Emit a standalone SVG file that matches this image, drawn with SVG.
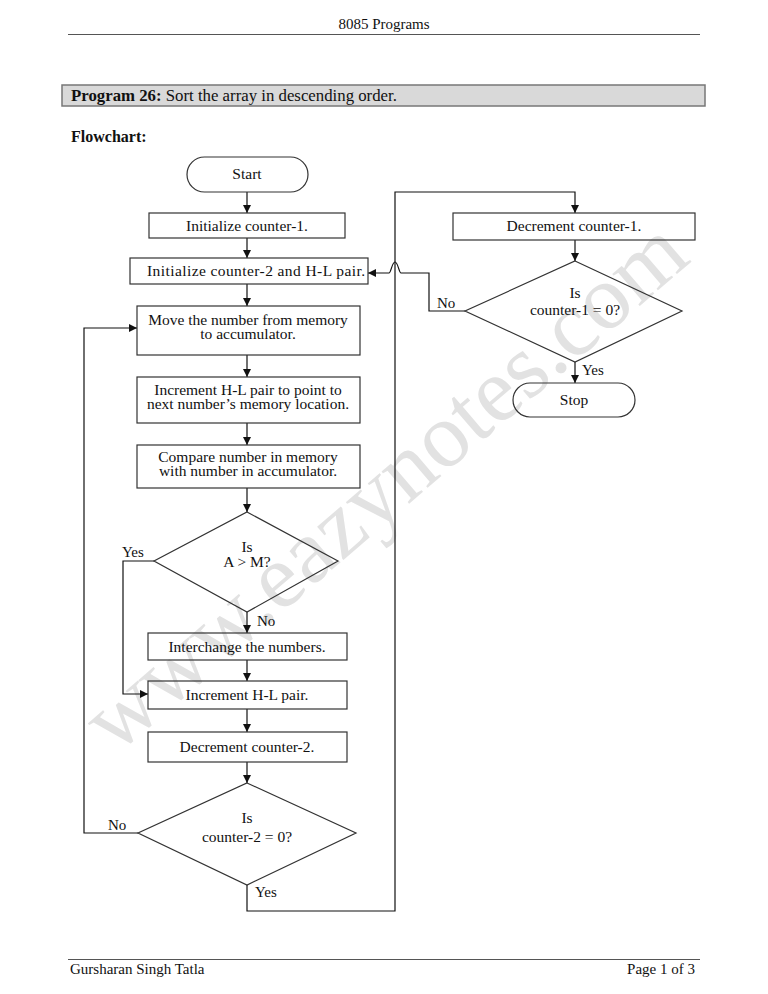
<svg xmlns="http://www.w3.org/2000/svg" width="768" height="994" viewBox="0 0 768 994">
<defs>
<style>
text{font-family:"Liberation Serif","Times New Roman",serif;fill:#111;}
.t{font-size:15.5px;text-anchor:middle;}
.l{font-size:15px;}
.shape{fill:none;stroke:#333;stroke-width:1.2;}
.conn{fill:none;stroke:#111;stroke-width:1.2;}
.rule{stroke:#555;stroke-width:1.2;}
.wm{font-size:92px;fill:#e2e2e2;}
</style>
<marker id="ah" viewBox="0 0 10 10" refX="10" refY="5" markerWidth="8" markerHeight="8" markerUnits="userSpaceOnUse" orient="auto">
<path d="M0,0 L10,5 L0,10 z" fill="#111"/>
</marker>
</defs>
<rect width="768" height="994" fill="#fff"/>
<text class="wm" transform="translate(404,508) rotate(-40.6)" text-anchor="middle">www.eazynotes.com</text>

<g id="header">
<text x="384" y="29" font-size="15" text-anchor="middle">8085 Programs</text>
<line class="rule" x1="68" y1="34.5" x2="700" y2="34.5"/>
</g>
<g id="title">
<rect x="62" y="85" width="643" height="21" fill="#d9d9d9" stroke="#777" stroke-width="1.5"/>
<text x="71" y="101" font-size="16.8"><tspan font-weight="bold">Program 26:</tspan> Sort the array in descending order.</text>
<text x="71" y="142" font-size="16" font-weight="bold">Flowchart:</text>
</g>

<g id="connectors">
<line class="conn" x1="247" y1="192" x2="247" y2="213" marker-end="url(#ah)"/>
<line class="conn" x1="247" y1="238" x2="247" y2="258" marker-end="url(#ah)"/>
<line class="conn" x1="247" y1="284" x2="247" y2="306" marker-end="url(#ah)"/>
<line class="conn" x1="247" y1="355" x2="247" y2="377" marker-end="url(#ah)"/>
<line class="conn" x1="247" y1="423" x2="247" y2="445" marker-end="url(#ah)"/>
<line class="conn" x1="247" y1="488" x2="247" y2="512" marker-end="url(#ah)"/>
<line class="conn" x1="247" y1="612" x2="247" y2="633" marker-end="url(#ah)"/>
<line class="conn" x1="247" y1="660" x2="247" y2="681" marker-end="url(#ah)"/>
<line class="conn" x1="247" y1="709" x2="247" y2="732" marker-end="url(#ah)"/>
<line class="conn" x1="247" y1="762" x2="247" y2="783" marker-end="url(#ah)"/>
<path class="conn" d="M154,561 H123 V694 H148" marker-end="url(#ah)"/>
<path class="conn" d="M138,833 H84 V328 H137" marker-end="url(#ah)"/>
<path class="conn" d="M247,885 V911 H395 V192 H575 V213" marker-end="url(#ah)"/>
<line class="conn" x1="575" y1="240" x2="575" y2="261" marker-end="url(#ah)"/>
<line class="conn" x1="575" y1="362" x2="575" y2="383" marker-end="url(#ah)"/>
<path class="conn" d="M465,311 H429 V273 H401 C399,273 398,262 395,262 C392,262 391,273 389,273 H368" marker-end="url(#ah)"/>
<text class="l" x="122" y="557">Yes</text>
<text class="l" x="257" y="626">No</text>
<text class="l" x="108" y="830">No</text>
<text class="l" x="255" y="897">Yes</text>
<text class="l" x="437" y="308">No</text>
<text class="l" x="582" y="375">Yes</text>
</g>

<g id="start">
<rect class="shape" x="187" y="157" width="121" height="35" rx="17.5"/>
<text class="t" x="247" y="179">Start</text>
</g>
<g id="init1">
<rect class="shape" x="149" y="213" width="196" height="25"/>
<text class="t" x="247" y="231">Initialize counter-1.</text>
</g>
<g id="init2">
<rect class="shape" x="130" y="258" width="238" height="26"/>
<text x="147" y="276" font-size="15.5" textLength="218" lengthAdjust="spacing">Initialize counter-2 and H-L pair.</text>
</g>
<g id="move">
<rect class="shape" x="137" y="306" width="223" height="49"/>
<text class="t" x="248" y="325">Move the number from memory</text>
<text class="t" x="248" y="339">to accumulator.</text>
</g>
<g id="inchl">
<rect class="shape" x="137" y="377" width="223" height="46"/>
<text class="t" x="248" y="395">Increment H-L pair to point to</text>
<text class="t" x="248" y="409">next number’s memory location.</text>
</g>
<g id="compare">
<rect class="shape" x="137" y="445" width="223" height="43"/>
<text class="t" x="248" y="462">Compare number in memory</text>
<text class="t" x="248" y="476">with number in accumulator.</text>
</g>
<g id="dec_am">
<polygon class="shape" points="247,512 338,561 247,612 154,561"/>
<text class="t" x="247" y="552">Is</text>
<text class="t" x="247" y="567">A &gt; M?</text>
</g>
<g id="interchange">
<rect class="shape" x="148" y="633" width="199" height="27"/>
<text class="t" x="247" y="652">Interchange the numbers.</text>
</g>
<g id="inchl2">
<rect class="shape" x="148" y="681" width="199" height="28"/>
<text class="t" x="247" y="700">Increment H-L pair.</text>
</g>
<g id="deccnt2">
<rect class="shape" x="148" y="732" width="199" height="30"/>
<text class="t" x="247" y="752">Decrement counter-2.</text>
</g>
<g id="dec_c2">
<polygon class="shape" points="247,783 356,833 247,885 138,833"/>
<text class="t" x="247" y="823">Is</text>
<text class="t" x="247" y="842">counter-2 = 0?</text>
</g>
<g id="deccnt1">
<rect class="shape" x="453" y="213" width="242" height="27"/>
<text class="t" x="574" y="231">Decrement counter-1.</text>
</g>
<g id="dec_c1">
<polygon class="shape" points="575,261 682,311 575,362 465,311"/>
<text class="t" x="575" y="298">Is</text>
<text class="t" x="575" y="315">counter-1 = 0?</text>
</g>
<g id="stop">
<rect class="shape" x="513" y="383" width="122" height="34" rx="17"/>
<text class="t" x="574" y="405">Stop</text>
</g>

<g id="footer">
<line class="rule" x1="68" y1="959.5" x2="700" y2="959.5"/>
<text x="70" y="974" font-size="15">Gursharan Singh Tatla</text>
<text x="695" y="974" font-size="15" text-anchor="end">Page 1 of 3</text>
</g>
</svg>
